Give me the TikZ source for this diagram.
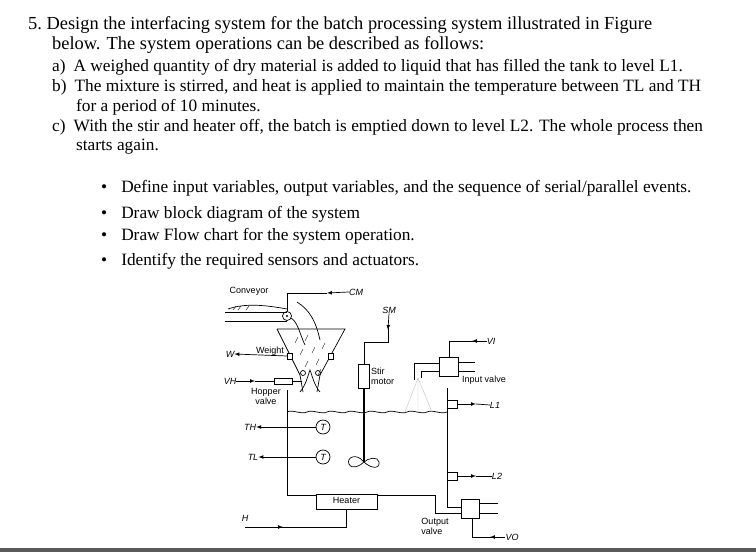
\documentclass[tikz,border=0pt]{standalone}
\usepackage{fontspec}
\setmainfont{Liberation Serif}
\newfontfamily\dsf{Liberation Sans}
\begin{document}
\begin{tikzpicture}[x=1pt,y=-1pt,
 tx/.style={font=\fontsize{17.3}{20}\selectfont,anchor=west,inner sep=0},
 tb/.style={font=\fontsize{18.4}{20}\selectfont,anchor=west,inner sep=0},
 lb/.style={font=\dsf\fontsize{9}{10}\selectfont,inner sep=0},
 il/.style={font=\dsf\itshape\fontsize{9}{10}\selectfont,inner sep=0},
 ln/.style={line width=0.7pt},
 box/.style={draw,line width=0.7pt,fill=white}]
\useasboundingbox (0,0) rectangle (756,552);
\fill[gray!70!black] (0,548) rectangle (756,552);
% text
\node[tb] (l1) at (28,25) {5.\ Design the interfacing system for the batch processing system illustrated in Figure};
\node[tb] (l2) at (52,45) {below. The system operations can be described as follows:};
\node[tx] (l3) at (52,67) {a)\hspace{8pt}A weighed quantity of dry material is added to liquid that has filled the tank to level L1.};
\node[tx] (l4) at (52,87) {b)\hspace{8pt}The mixture is stirred, and heat is applied to maintain the temperature between TL and TH};
\node[tx] (l5) at (76,107) {for a period of 10 minutes.};
\node[tx] (l6) at (52,127) {c)\hspace{8pt}With the stir and heater off, the batch is emptied down to level L2. The whole process then};
\node[tx] (l7) at (76,147) {starts again.};
\foreach \y/\t [count=\i] in {188/{Define input variables, output variables, and the sequence of serial/parallel events.},214/{Draw block diagram of the system},236/{Draw Flow chart for the system operation.},261/{Identify the required sensors and actuators.}}{
 \node[tx] (b\i) at (101,\y) {\textbullet\hspace{14pt}\t};}
% conveyor
\node[lb] (conv) at (249,291) {Conveyor};
\draw[ln] (225,312) -- (287,312) (225,321) -- (287,321);
\draw[ln] (228,309) .. controls (245,303) and (265,305) .. (287,309);
\draw (233,310)--(236,306) (238,310)--(241,306) (246,310)--(249,306);
\node[draw,circle,ln,minimum size=9pt,inner sep=0] (roll) at (287,316) {};
\fill (287,316) circle (1.2);
% hopper
\draw[ln] (277,329) -- (345,329) -- (320,375) -- (317,392);
\draw[ln] (277,329) -- (300,375) -- (303,392);
\draw[ln] (291,318) .. controls (298,322) and (300,335) .. (305,345);
\draw[ln] (297,302) .. controls (310,310) and (316,322) .. (320,340);
\foreach \a/\b in {295/340,305/338,300/352,312/350,322/346,305/364,316/362,318/372}{\draw (\a,\b+3)--(\a+3,\b-3);}
\draw[ln] (300,392) .. controls (306,385) and (308,375) .. (310,370) .. controls (312,375) and (314,385) .. (320,392);
\node[box,minimum width=5pt,minimum height=6pt,inner sep=0] (wl) at (290,356) {};
\node[box,minimum width=5pt,minimum height=6pt,inner sep=0] (wr) at (331,356) {};
\node[draw,circle,ln,minimum size=5pt,inner sep=0] (p1) at (303,373) {};
\node[draw,circle,ln,minimum size=5pt,inner sep=0] (p2) at (318,373) {};
\node[lb] (wt) at (270,351) {Weight};
\node[il] (W) at (230,354) {W};
\draw[ln,-latex] (wl.west) -- (W.east);
% CM
\node[il] (CM) at (356,292) {CM};
\coordinate (cmt) at (287,293);
\draw[ln] (roll.north) -- (cmt);
\draw[ln,-latex] (CM.west) -- (327,293);
\draw[ln] (327,293) -- (cmt);
% hopper valve
\node[il] (VH) at (230,381) {VH};
\node[box,minimum width=18pt,minimum height=6pt,inner sep=0] (hv) at (283,381) {};
\draw[ln,-latex] (VH.east) -- (255,381);
\draw[ln] (255,381) -- (hv.west);
\draw[ln] (hv.east) -- (302,381);
\node[lb,align=center] (hvl) at (266,396) {Hopper\\valve};
% tank
\draw[ln] (287,390) -- (287,495) -- (435,495) -- (435,513) -- (461,513);
\draw[ln] (447,388) -- (447,507) -- (461,507);
\draw[ln] (287,412) \foreach \i in {0,...,7}{ .. controls (292+\i*20,409) and (302+\i*20,415) .. (307+\i*20,412)};
% heater
\node[box,minimum width=61pt,minimum height=15pt,inner sep=0] (heat) at (346.5,502) {};
\node[lb] at (346.5,500) {Heater};
\node[il] (H) at (245,518) {H};
\coordinate (hc) at (346,527);
\draw[ln] (heat.south -| hc) -- (hc) -- (245,527);
\draw[ln,-latex] (245,527) -- (283,527);
% sensors
\node[draw,circle,ln,minimum size=14pt,inner sep=0,il] (T1) at (323,427) {T};
\node[draw,circle,ln,minimum size=14pt,inner sep=0,il] (T2) at (323,457) {T};
\node[il] (TH) at (250,427) {TH};
\node[il] (TL) at (253,457) {TL};
\draw[ln,-latex] (T1.west) -- (TH.east);
\draw[ln,-latex] (T2.west) -- (TL.east);
% stir
\node[box,minimum width=11pt,minimum height=24pt,inner sep=0] (sm) at (364,376) {};
\node[lb,align=left,anchor=west] (sml) at (371,376) {Stir\\motor};
\draw[line width=1.4pt] (sm.south) -- (364,462);
\draw[ln] (364,462) .. controls (356,452) and (346,458) .. (349,464) .. controls (352,470) and (360,466) .. (364,462)
 .. controls (368,458) and (378,456) .. (379,462) .. controls (380,470) and (370,468) .. (364,462);
\node[il] (SM) at (389,310) {SM};
\draw[ln] (sm.north) -- (364,342) -- (388,342) -- (388,328);
\draw[ln,-latex] (SM.south) -- (388,330);
% input valve
\node[box,minimum width=19pt,minimum height=19pt,inner sep=0] (iv) at (448.5,366.5) {};
\draw[ln] (iv.east |- 0,362) -- (475,362) (iv.east |- 0,371) -- (475,371);
\draw[ln] (iv.west |- 0,363) -- (414,363) -- (414,380);
\draw[ln] (iv.west |- 0,371) -- (421,371) -- (421,378);
\draw[gray!50] (418,378) -- (405,412) (418,378) -- (418,412) (418,378) -- (432,412);
\node[il] (VI) at (491,341) {VI};
\draw[ln] (iv.north -| 449,0) -- (449,341) -- (VI.west);
\draw[ln,-latex] (VI.west) -- (472,341);
\node[lb] (ivl) at (484,380) {Input valve};
% levels
\node[box,minimum width=10pt,minimum height=8pt,inner sep=0] (s1) at (452,404) {};
\node[box,minimum width=10pt,minimum height=8pt,inner sep=0] (s2) at (452,476) {};
\node[il] (L1) at (495,405) {L1};
\node[il] (L2) at (497,476) {L2};
\draw[ln,-latex] (s1.east) -- (476,404);
\draw[ln] (476,404) -- (L1.west);
\draw[ln,-latex] (s2.east) -- (476,476);
\draw[ln] (476,476) -- (L2.west);
% output valve
\node[box,minimum width=18pt,minimum height=19pt,inner sep=0] (ov) at (470,508.5) {};
\draw[ln] (ov.east |- 0,503) -- (498,503) (ov.east |- 0,513) -- (498,513);
\node[il] (VO) at (512,537) {VO};
\draw[ln] (ov.south -| 472,0) -- (472,537) -- (VO.west);
\draw[ln,-latex] (VO.west) -- (490,537);
\node[lb,align=left] (ovl) at (435,526) {Output\\valve};
\end{tikzpicture}
\end{document}
